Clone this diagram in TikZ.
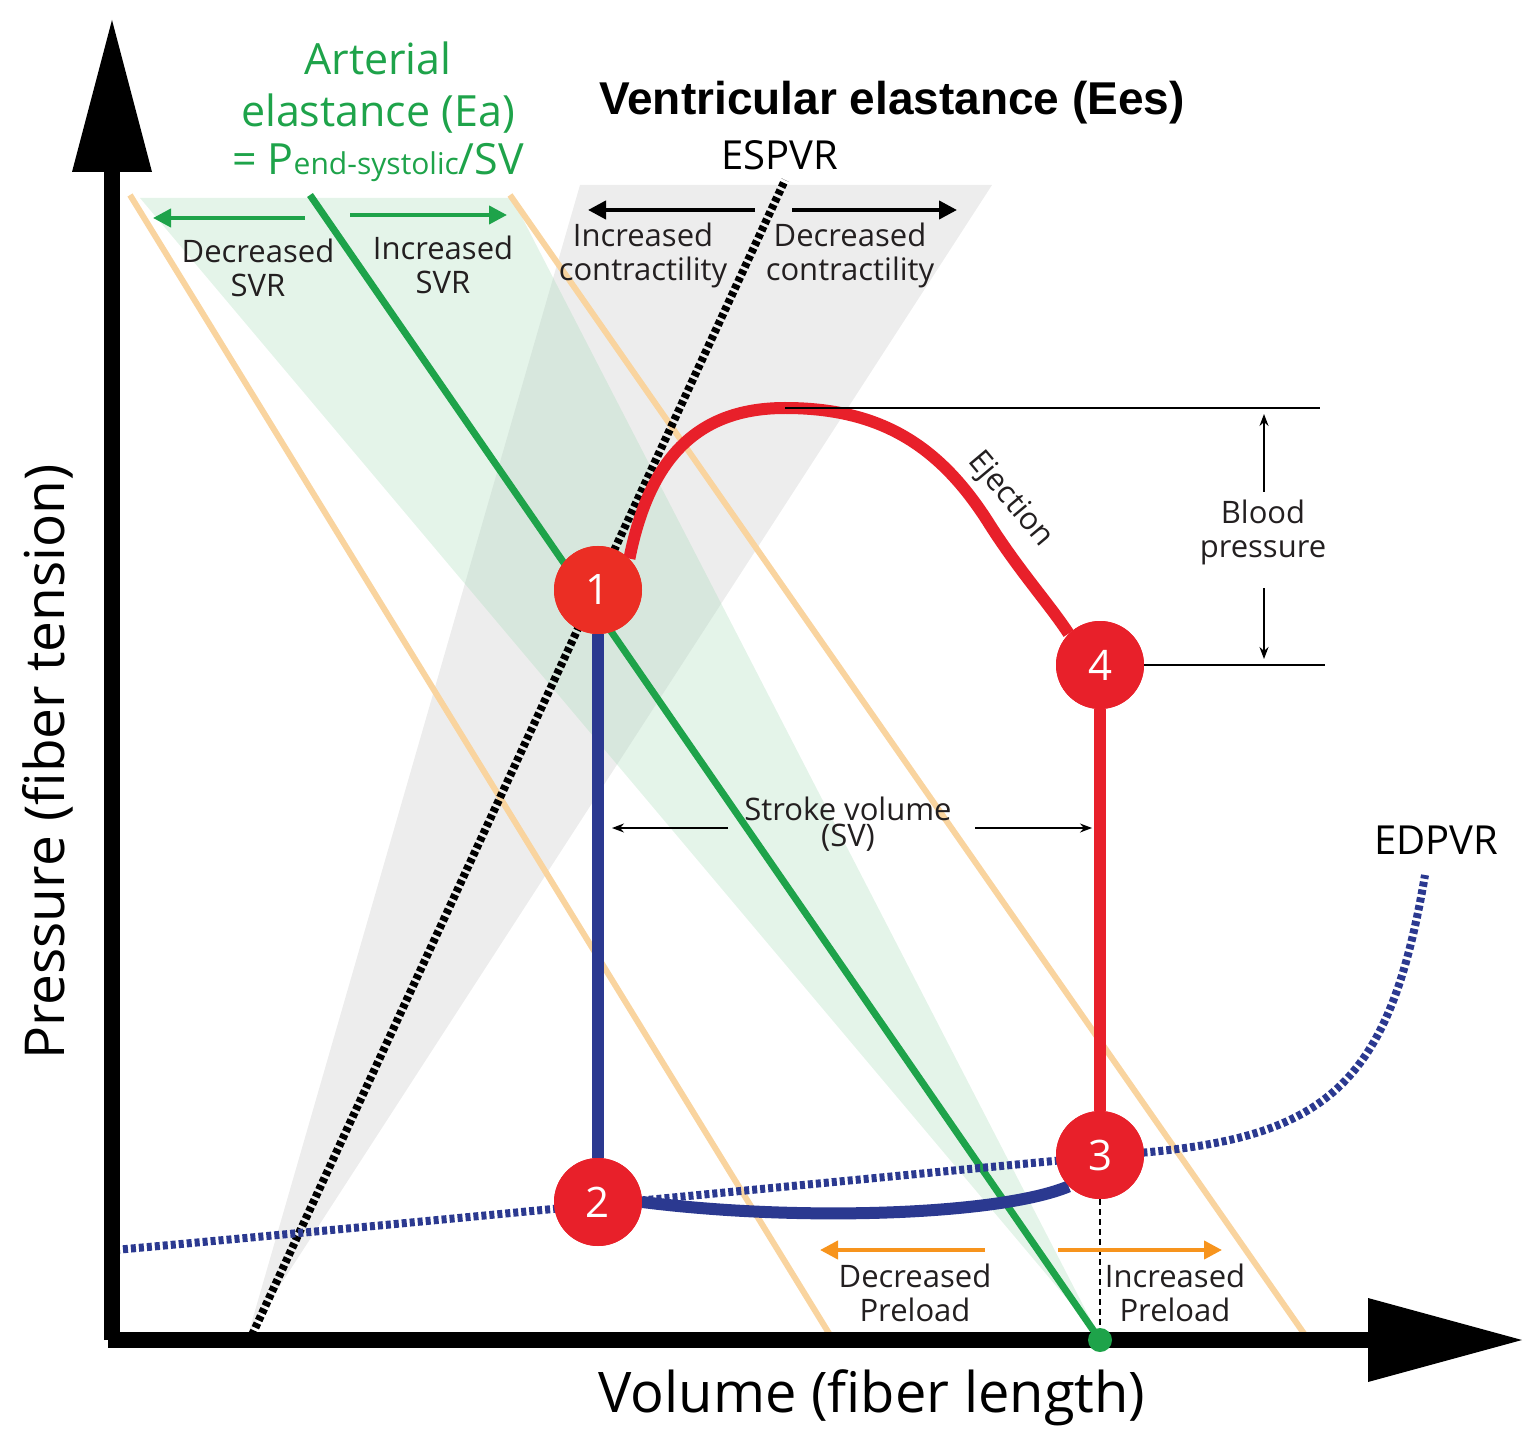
\documentclass[tikz,border=0pt]{standalone}
\usepackage{fontspec}
\setmainfont{Open Sans}
\newfontfamily\boldsans{Liberation Sans}
\usetikzlibrary{arrows.meta}
\definecolor{grn}{HTML}{1EA34A}
\definecolor{org}{HTML}{F9D49F}
\definecolor{orgA}{HTML}{F7941D}
\definecolor{rd}{HTML}{E8202A}
\definecolor{bl}{HTML}{2B3990}
\definecolor{txt}{HTML}{231F20}
\begin{document}
\begin{tikzpicture}[x=0.5pt,y=-0.5pt,
  pt/.style={circle,fill=rd,minimum size=44pt,inner sep=0pt,text=white,font=\fontsize{21}{21}\selectfont},
  lbl/.style={align=center,text=txt,font=\fontsize{15.5}{17}\selectfont},
  arr/.style={-{Triangle[length=9pt,width=9pt]},line width=2pt},
  thin/.style={-{Stealth[length=6pt]},line width=0.7pt}]
\useasboundingbox (0,0) rectangle (1536,1438);
% shaded wedges
\fill[gray!40,opacity=0.35] (248,1335) -- (580,185) -- (992,185) -- cycle;
\fill[grn!40,opacity=0.3] (140,198) -- (512,198) -- (1100,1338) -- cycle;
% orange lines
\draw[org,line width=3pt] (130,195) -- (830,1335);
\draw[org,line width=3pt] (510,195) -- (1305,1335);
% ESPVR
\draw[black,line width=4pt,dash pattern=on 2.5pt off 1.5pt] (252,1335) -- (785,180);
% green line
\draw[grn,line width=3.5pt] (310,195) -- (1100,1340);
% EDPVR
\draw[bl,line width=4pt,dash pattern=on 2.5pt off 1.5pt] (115,1250) .. controls (500,1215) and (900,1175) .. (1150,1152) .. controls (1330,1135) and (1390,1080) .. (1425,875);
% axes
\draw[line width=8pt] (112,1340) -- (112,160);
\fill (112,20) -- (72,172) -- (152,172) -- cycle;
\draw[line width=8pt] (108,1340) -- (1372,1340);
\fill (1522,1340) -- (1368,1298) -- (1368,1382) -- cycle;
% points
\node[pt,fill=rd!85!orange] (p1) at (598,590) {1};
\node[pt] (p2) at (598,1202) {2};
\node[pt] (p3) at (1100,1155) {3};
\node[pt] (p4) at (1100,665) {4};
\draw[bl,line width=6pt] (p1.south) -- (p2.north);
\draw[bl,line width=6pt] (p2.east) .. controls (800,1222) and (1000,1215) .. (p3.south west);
\draw[rd,line width=6pt] (p3.north) -- (p4.south);
\draw[rd,line width=6pt] (p1.north east) .. controls (650,455) and (700,408) .. (785,408) coordinate (peak) .. controls (880,408) and (940,445) .. (990,525) .. controls (1020,572) and (1050,605) .. (p4.north west);
\node[pt,fill=rd!85!orange] at (598,590) {1};
\node[pt] at (598,1202) {2};
\node[pt] at (1100,1155) {3};
\node[pt] at (1100,665) {4};
% blood pressure
\draw[line width=1pt] (peak) -- (1320,408);
\draw[line width=1pt] (p4.east) -- (1325,665);
\draw[thin] (1264,492) -- (1264,414);
\draw[thin] (1264,588) -- (1264,659);
\node[lbl] (bp) at (1263,532) {Blood\\pressure};
\node[lbl,rotate=-50] (ej) at (1010,500) {Ejection};
% stroke volume
\node[lbl,align=center,inner sep=1pt,font=\fontsize{15.5}{13}\selectfont] (sv) at (848,824) {Stroke volume\\(SV)};
\draw[thin] (728,828) -- (612,828);
\draw[thin] (975,828) -- (1092,828);
% dashed & dot
\draw[line width=0.8pt,dash pattern=on 3pt off 2pt] (p3.south) -- (1100,1335);
\fill[grn] (1100,1340) circle (12);
% preload
\draw[arr,orgA] (985,1250) -- (820,1250);
\draw[arr,orgA] (1058,1250) -- (1222,1250);
\node[lbl] (dp) at (915,1293) {Decreased\\Preload};
\node[lbl] (ip) at (1175,1293) {Increased\\Preload};
% SVR
\draw[arr,grn] (305,218) -- (153,218);
\draw[arr,grn] (350,215) -- (507,215);
\node[lbl] (ds) at (258,268) {Decreased\\SVR};
\node[lbl] (is) at (443,265) {Increased\\SVR};
% contractility
\draw[arr,black] (755,210) -- (588,210);
\draw[arr,black] (792,210) -- (957,210);
\node[lbl] (ic) at (643,255) {Increased\\contractility};
\node[lbl] (dc) at (850,255) {Decreased\\contractility};
% titles
\node[align=center,text=grn,font=\fontsize{21.5}{26}\selectfont] (ea) at (378,88) {Arterial\\elastance (Ea)};
\node[text=grn,font=\fontsize{21.5}{26}\selectfont] (eq) at (378,163) {= P\fontsize{15}{15}\selectfont end-systolic\fontsize{21.5}{26}\selectfont/SV};
\node[font=\boldsans\bfseries\fontsize{23}{26}\selectfont] (ees) at (892,103) {Ventricular elastance (Ees)};
\node[font=\fontsize{20}{22}\selectfont] (espvr) at (780,155) {ESPVR};
\node[font=\fontsize{20}{22}\selectfont] (edpvr) at (1436,840) {EDPVR};
\node[rotate=90,font=\fontsize{27.5}{30}\selectfont] (ya) at (48,762) {Pressure (fiber tension)};
\node[font=\fontsize{28}{30}\selectfont] (xa) at (872,1398) {Volume (fiber length)};
\end{tikzpicture}
\end{document}
